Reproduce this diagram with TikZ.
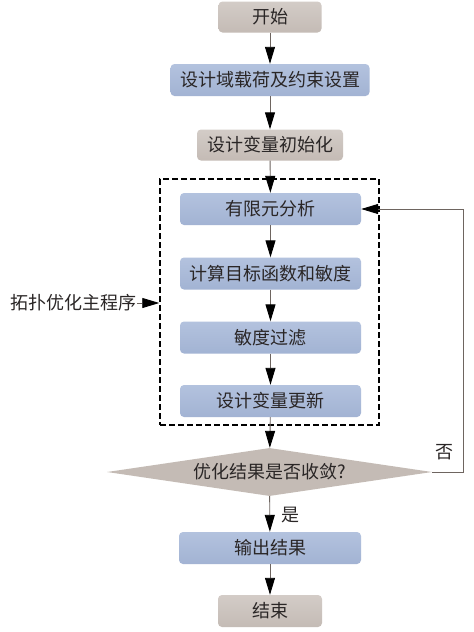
\documentclass[tikz,border=0pt]{standalone}
\usepackage{fontspec}
\setmainfont{Noto Sans CJK SC}
\usetikzlibrary{arrows.meta,shapes.geometric}
\definecolor{boxgray}{HTML}{C4BBB5}
\definecolor{boxgraytop}{HTML}{D3CCC7}
\definecolor{boxblue}{HTML}{A2B3D3}
\definecolor{boxbluetop}{HTML}{B3C2DE}
\definecolor{linegray}{HTML}{6E6560}
\definecolor{textdark}{HTML}{2A2626}
\tikzset{
  graybox/.style={rounded corners=4pt, top color=boxgraytop, bottom color=boxgray,
    minimum height=31pt, inner sep=0pt, text=textdark, font=\fontsize{18}{18}\selectfont},
  bluebox/.style={rounded corners=4pt, top color=boxbluetop, bottom color=boxblue,
    minimum height=32pt, inner sep=0pt, text=textdark, font=\fontsize{18}{18}\selectfont},
  flow/.style={draw=linegray, line width=0.9pt,
    -{Triangle[length=17pt,width=10pt,color=black]}},
}
\begin{document}
\begin{tikzpicture}[x=1pt,y=-1pt]
  \useasboundingbox[fill=white] (0,0) rectangle (474,632);

  % start and setup
  \node[graybox, minimum width=103pt] (start) at (270,17) {开始};
  \node[bluebox, minimum width=199pt] (domain) at (270,80) {设计域载荷及约束设置};
  \node[graybox, minimum width=146pt] (init) at (270,145) {设计变量初始化};

  % main loop
  \node[draw, dash pattern=on 6pt off 3pt, line width=1.5pt,
        minimum width=219pt, minimum height=246pt] (frame) at (269.5,302) {};
  \node[bluebox, minimum width=181pt] (fea) at (270.5,209) {有限元分析};
  \node[bluebox, minimum width=181pt] (sens) at (270.5,273.5) {计算目标函数和敏度};
  \node[bluebox, minimum width=181pt] (filter) at (270.5,337.5) {敏度过滤};
  \node[bluebox, minimum width=181pt] (update) at (270.5,401) {设计变量更新};
  \node[anchor=east, inner sep=0pt, text=textdark, font=\fontsize{18}{18}\selectfont] (mainlabel) at (137,303) {拓扑优化主程序};

  % convergence check and end
  \node[diamond, aspect=6.77, fill=boxgray, minimum width=325pt, minimum height=48pt, inner sep=0pt,
        text=textdark, font=\fontsize{18}{18}\selectfont] (conv) at (269.5,472) {优化结果是否收敛?};
  \node[bluebox, minimum width=182pt] (output) at (270,548) {输出结果};
  \node[graybox, minimum width=104pt, minimum height=32pt] (finish) at (270,611) {结束};
  \coordinate (corner1) at (463,472);
  \coordinate (corner2) at (463,209);
  \node[text=textdark, font=\fontsize{18}{18}\selectfont, inner sep=0pt] (no) at (444,452) {否};
  \node[text=textdark, font=\fontsize{18}{18}\selectfont, inner sep=0pt] (yes) at (290,515) {是};

  \draw[flow] (start) -- (domain);
  \draw[flow] (domain) -- (init);
  \draw[flow] (init) -- (fea);
  \draw[flow] (fea) -- (sens);
  \draw[flow] (sens) -- (filter);
  \draw[flow] (filter) -- (update);
  \draw[flow] (update) -- (conv);
  \draw[flow] (conv) -- (output);
  \draw[flow] (output) -- (finish);
  \draw[flow] (conv.east) -- (corner1) -- (corner2) -- (fea.east);
  \draw[flow] (mainlabel) -- (frame.west |- mainlabel);
\end{tikzpicture}
\end{document}
